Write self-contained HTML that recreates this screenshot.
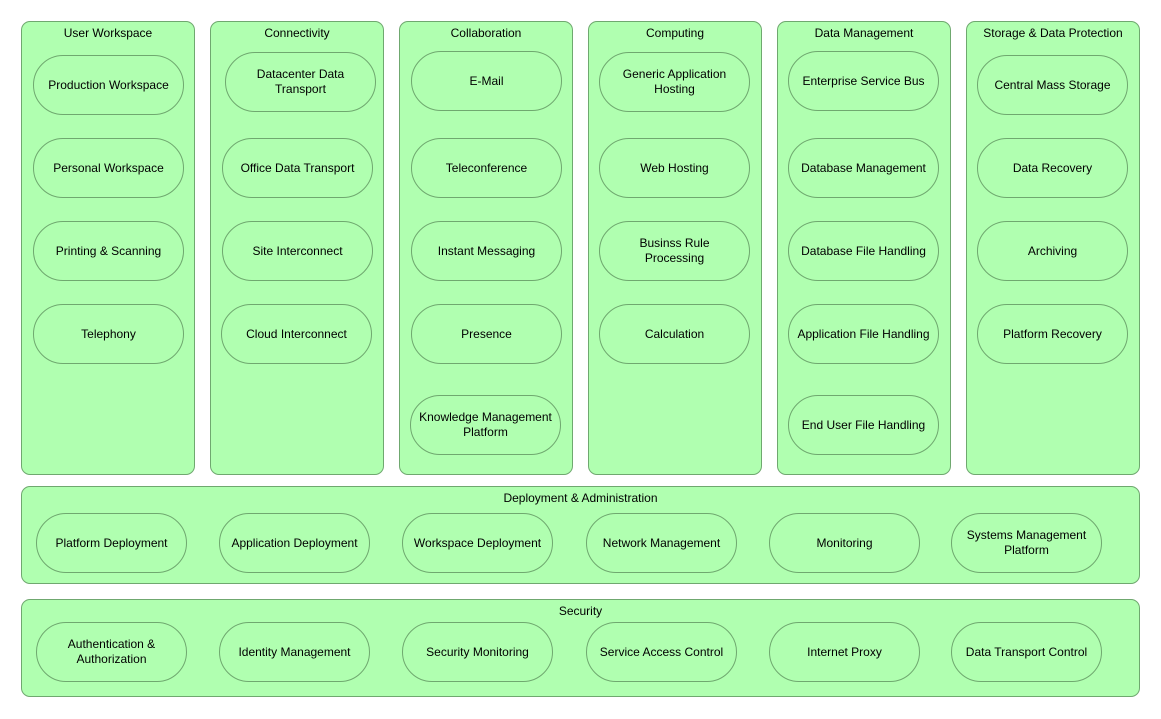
<!DOCTYPE html>
<html><head><style>
body{margin:0;width:1161px;height:719px;background:#fff;position:relative;font-family:"Liberation Sans",sans-serif;overflow:hidden}
.g{position:absolute;background:#b0ffb0;border:1px solid #6fa86f;border-radius:9px;box-sizing:border-box}
.t{position:absolute;left:0;right:0;text-align:center;font-size:12px;color:#000}
.p{position:absolute;width:151px;height:60px;border:1px solid #6fa86f;border-radius:30px;background:#b0ffb0;box-sizing:border-box;display:flex;align-items:center;justify-content:center;text-align:center;font-size:12px;line-height:15px;color:#000}
</style></head><body>
<div class="g" style="left:21px;top:21px;width:174px;height:454px"><div class="t" style="top:4px">User Workspace</div></div>
<div class="g" style="left:210px;top:21px;width:174px;height:454px"><div class="t" style="top:4px">Connectivity</div></div>
<div class="g" style="left:399px;top:21px;width:174px;height:454px"><div class="t" style="top:4px">Collaboration</div></div>
<div class="g" style="left:588px;top:21px;width:174px;height:454px"><div class="t" style="top:4px">Computing</div></div>
<div class="g" style="left:777px;top:21px;width:174px;height:454px"><div class="t" style="top:4px">Data Management</div></div>
<div class="g" style="left:966px;top:21px;width:174px;height:454px"><div class="t" style="top:4px">Storage &amp; Data Protection</div></div>
<div class="g" style="left:21px;top:486px;width:1119px;height:98px"><div class="t" style="top:4px">Deployment &amp; Administration</div></div>
<div class="g" style="left:21px;top:599px;width:1119px;height:98px"><div class="t" style="top:4px">Security</div></div>

<div class="p" style="left:33px;top:55px">Production Workspace</div>
<div class="p" style="left:33px;top:138px">Personal Workspace</div>
<div class="p" style="left:33px;top:221px">Printing &amp; Scanning</div>
<div class="p" style="left:33px;top:304px">Telephony</div>

<div class="p" style="left:225px;top:52px">Datacenter Data<br>Transport</div>
<div class="p" style="left:222px;top:138px">Office Data Transport</div>
<div class="p" style="left:222px;top:221px">Site Interconnect</div>
<div class="p" style="left:221px;top:304px">Cloud Interconnect</div>

<div class="p" style="left:411px;top:51px">E-Mail</div>
<div class="p" style="left:411px;top:138px">Teleconference</div>
<div class="p" style="left:411px;top:221px">Instant Messaging</div>
<div class="p" style="left:411px;top:304px">Presence</div>
<div class="p" style="left:410px;top:395px">Knowledge Management<br>Platform</div>

<div class="p" style="left:599px;top:52px">Generic Application<br>Hosting</div>
<div class="p" style="left:599px;top:138px">Web Hosting</div>
<div class="p" style="left:599px;top:221px">Businss Rule<br>Processing</div>
<div class="p" style="left:599px;top:304px">Calculation</div>

<div class="p" style="left:788px;top:51px">Enterprise Service Bus</div>
<div class="p" style="left:788px;top:138px">Database Management</div>
<div class="p" style="left:788px;top:221px">Database File Handling</div>
<div class="p" style="left:788px;top:304px">Application File Handling</div>
<div class="p" style="left:788px;top:395px">End User File Handling</div>

<div class="p" style="left:977px;top:55px">Central Mass Storage</div>
<div class="p" style="left:977px;top:138px">Data Recovery</div>
<div class="p" style="left:977px;top:221px">Archiving</div>
<div class="p" style="left:977px;top:304px">Platform Recovery</div>

<div class="p" style="left:36px;top:513px">Platform Deployment</div>
<div class="p" style="left:219px;top:513px">Application Deployment</div>
<div class="p" style="left:402px;top:513px">Workspace Deployment</div>
<div class="p" style="left:586px;top:513px">Network Management</div>
<div class="p" style="left:769px;top:513px">Monitoring</div>
<div class="p" style="left:951px;top:513px">Systems Management<br>Platform</div>

<div class="p" style="left:36px;top:622px">Authentication &amp;<br>Authorization</div>
<div class="p" style="left:219px;top:622px">Identity Management</div>
<div class="p" style="left:402px;top:622px">Security Monitoring</div>
<div class="p" style="left:586px;top:622px">Service Access Control</div>
<div class="p" style="left:769px;top:622px">Internet Proxy</div>
<div class="p" style="left:951px;top:622px">Data Transport Control</div>
</body></html>
